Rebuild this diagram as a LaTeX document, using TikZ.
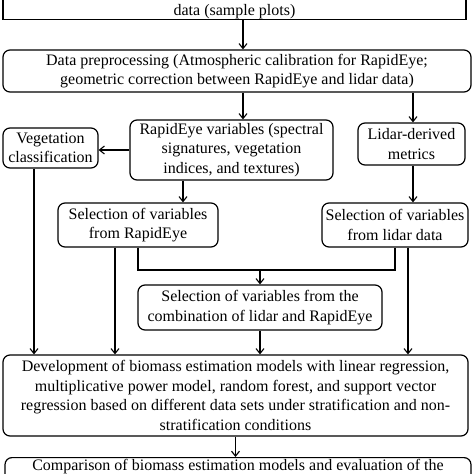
\documentclass[tikz,border=0pt]{standalone}
\usepackage{fontspec}
\setmainfont{Liberation Serif}
\usetikzlibrary{arrows.meta, positioning, calc}

\tikzset{
  flowbox/.style={draw, line width=1.2pt, rounded corners=7pt, align=center,
    inner sep=0pt, font=\fontsize{16}{19.5}\selectfont},
  squarebox/.style={flowbox, rounded corners=0pt},
  flowline/.style={line width=1.2pt},
  flowarrow/.style={flowline, -{Straight Barb[length=5pt, width=8pt, line width=1.1pt]}}
}

\begin{document}
\begin{tikzpicture}[x=1pt, y=-1pt]
  \useasboundingbox (0,0) rectangle (474,474);
  \clip (0,0) rectangle (474,474);

  % Boxes
  \node[squarebox, anchor=south, minimum width=463pt, text height=40pt,
    text depth=4pt] (field) at (234.5,20) {data (sample plots)};
  \node[flowbox, minimum width=468pt, minimum height=42pt] (prep) at (237,71)
    {Data preprocessing (Atmospheric calibration for RapidEye;\\
     geometric correction between RapidEye and lidar data)};
  \node[flowbox, minimum width=95pt, minimum height=40pt] (veg) at (50.5,148)
    {Vegetation\\classification};
  \node[flowbox, minimum width=203pt, minimum height=60pt] (rapid) at (231.5,150)
    {RapidEye variables (spectral\\signatures, vegetation\\indices, and textures)};
  \node[flowbox, minimum width=107pt, minimum height=42pt] (lidar) at (411.5,144)
    {Lidar-derived\\metrics};
  \node[flowbox, minimum width=160pt, minimum height=44pt] (selrapid) at (138,225)
    {Selection of variables\\from RapidEye};
  \node[flowbox, minimum width=146pt, minimum height=44pt] (sellidar) at (395,225)
    {Selection of variables\\from lidar data};
  \node[flowbox, minimum width=244pt, minimum height=45pt] (selboth) at (260,307.5)
    {Selection of variables from the\\combination of lidar and RapidEye};
  \node[flowbox, minimum width=465pt, minimum height=81pt] (models) at (235.5,395.5)
    {Development of biomass estimation models with linear regression,\\
     multiplicative power model, random forest, and support vector\\
     regression based on different data sets under stratification and non-\\
     stratification conditions};
  \node[flowbox, anchor=north, minimum width=466pt, text height=12pt,
    text depth=30pt, inner ysep=1pt] (compare) at (238,457)
    {Comparison of biomass estimation models and evaluation of the};

  % Lanes for the vertical connectors
  \coordinate (laneA) at (243,0);
  \coordinate (laneB) at (183,0);
  \coordinate (laneL) at (413,0);
  \coordinate (laneV) at (34,0);
  \coordinate (laneR) at (115,0);
  \coordinate (laneS) at (408,0);
  \coordinate (join) at (0,270);

  % Connectors
  \draw[flowarrow] (field.south -| laneA) -- (prep.north -| laneA);
  \draw[flowarrow] (prep.south -| laneA) -- (rapid.north -| laneA);
  \draw[flowarrow] (prep.south -| laneL) -- (lidar.north -| laneL);
  \draw[flowarrow] (rapid.west) -- (rapid.west -| veg.east);
  \draw[flowarrow] (rapid.south -| laneB) -- (selrapid.north -| laneB);
  \draw[flowarrow] (lidar.south -| laneL) -- (sellidar.north -| laneL);
  \draw[flowarrow] (veg.south -| laneV) -- (models.north -| laneV);
  \draw[flowarrow] (selrapid.south -| laneR) -- (models.north -| laneR);
  \draw[flowarrow] (sellidar.south -| laneS) -- (models.north -| laneS);
  \draw[flowline] (selrapid.south) -- (selrapid.south |- join)
    -| (sellidar.south);
  \draw[flowarrow] (selboth.north |- join) -- (selboth.north);
  \draw[flowarrow] (selboth.south) -- (selboth.south |- models.north);
  \draw[flowarrow] (models.south) -- (models.south |- compare.north);
\end{tikzpicture}
\end{document}
